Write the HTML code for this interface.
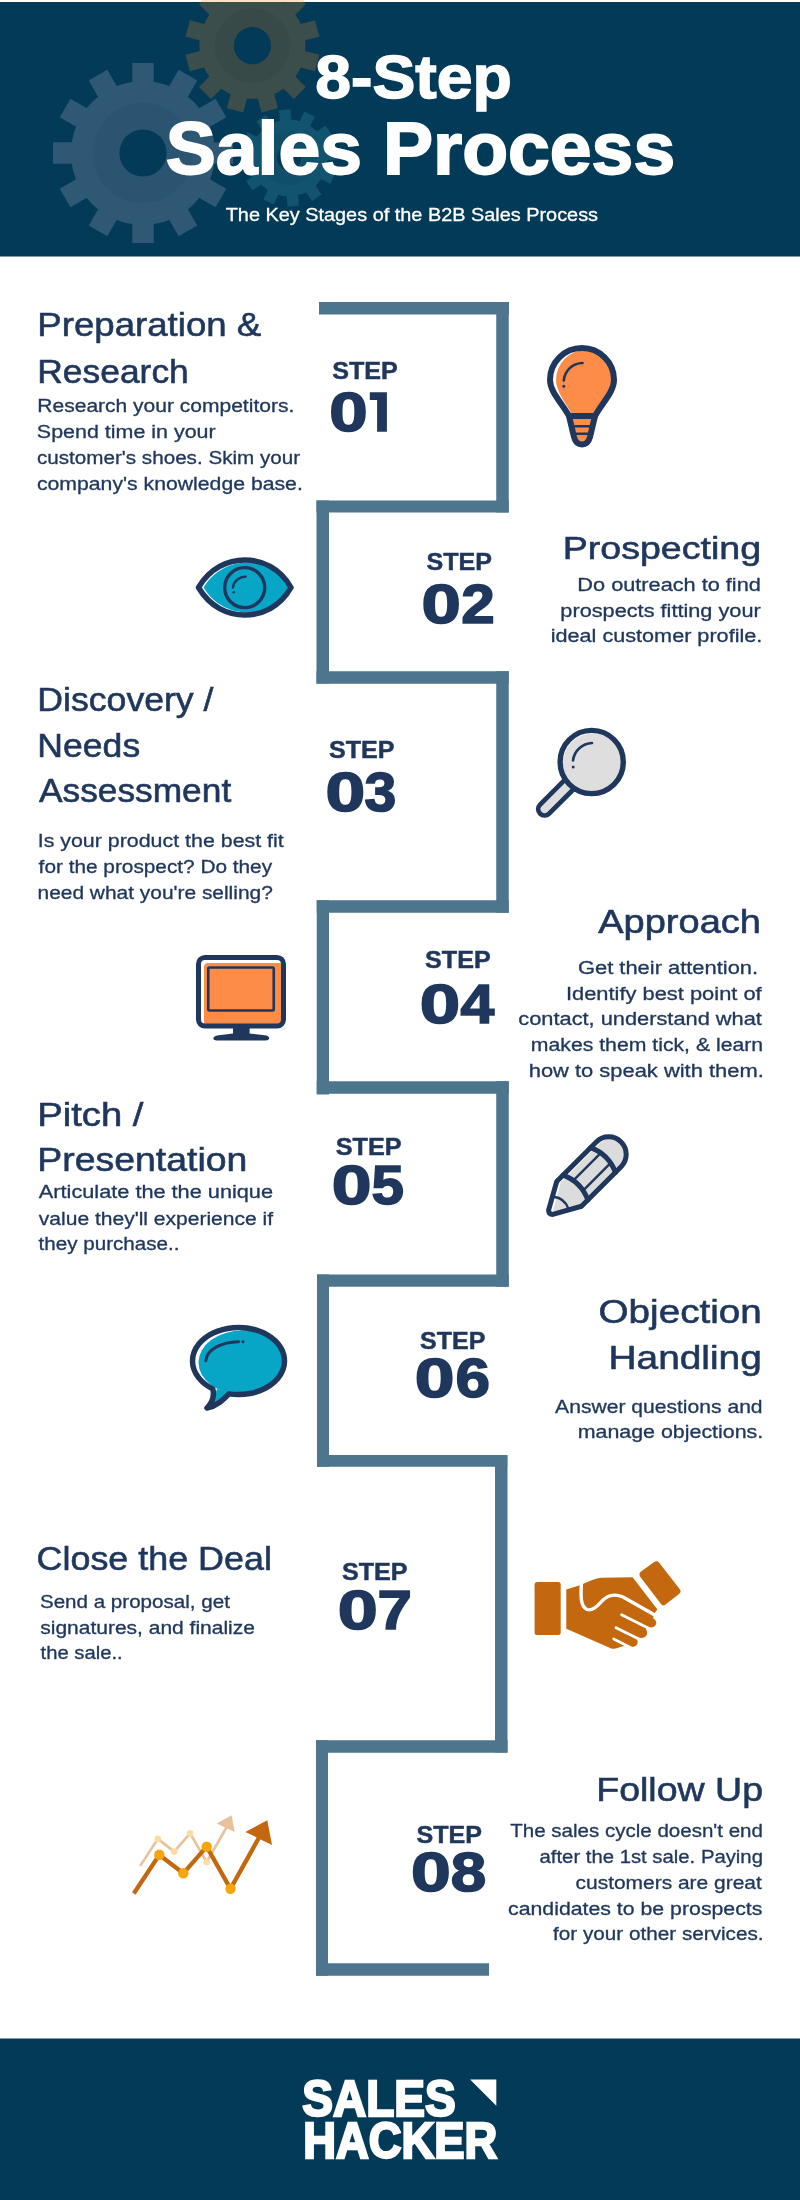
<!DOCTYPE html>
<html><head><meta charset="utf-8"><style>
html,body{margin:0;padding:0;background:#fff;}
svg{display:block;will-change:transform;}
text{font-family:"Liberation Sans",sans-serif;}
</style></head><body>
<svg width="800" height="2200" viewBox="0 0 800 2200">
<rect x="0" y="0" width="800" height="2200" fill="#ffffff"/>
<rect x="0" y="2" width="800" height="254.5" fill="#033a57"/>
<clipPath id="hc"><rect x="0" y="2" width="800" height="254.5"/></clipPath>
<rect x="201" y="0" width="103" height="2" fill="#fbe2c6"/>
<g clip-path="url(#hc)">
<g fill="#2e5873"><circle cx="143" cy="153" r="72"/><rect x="132.25" y="63.00" width="21.50" height="22.00" transform="rotate(0.00 143 153)"/><rect x="132.25" y="63.00" width="21.50" height="22.00" transform="rotate(30.00 143 153)"/><rect x="132.25" y="63.00" width="21.50" height="22.00" transform="rotate(60.00 143 153)"/><rect x="132.25" y="63.00" width="21.50" height="22.00" transform="rotate(90.00 143 153)"/><rect x="132.25" y="63.00" width="21.50" height="22.00" transform="rotate(120.00 143 153)"/><rect x="132.25" y="63.00" width="21.50" height="22.00" transform="rotate(150.00 143 153)"/><rect x="132.25" y="63.00" width="21.50" height="22.00" transform="rotate(180.00 143 153)"/><rect x="132.25" y="63.00" width="21.50" height="22.00" transform="rotate(210.00 143 153)"/><rect x="132.25" y="63.00" width="21.50" height="22.00" transform="rotate(240.00 143 153)"/><rect x="132.25" y="63.00" width="21.50" height="22.00" transform="rotate(270.00 143 153)"/><rect x="132.25" y="63.00" width="21.50" height="22.00" transform="rotate(300.00 143 153)"/><rect x="132.25" y="63.00" width="21.50" height="22.00" transform="rotate(330.00 143 153)"/></g>
<circle cx="143" cy="153" r="50" fill="#2a5470"/>
<circle cx="143" cy="153" r="23.6" fill="#033a57"/>
<g fill="#3c4e4b"><circle cx="252.4" cy="45.7" r="53"/><rect x="243.90" y="-21.30" width="17.00" height="18.00" transform="rotate(15.00 252.4 45.7)"/><rect x="243.90" y="-21.30" width="17.00" height="18.00" transform="rotate(45.00 252.4 45.7)"/><rect x="243.90" y="-21.30" width="17.00" height="18.00" transform="rotate(75.00 252.4 45.7)"/><rect x="243.90" y="-21.30" width="17.00" height="18.00" transform="rotate(105.00 252.4 45.7)"/><rect x="243.90" y="-21.30" width="17.00" height="18.00" transform="rotate(135.00 252.4 45.7)"/><rect x="243.90" y="-21.30" width="17.00" height="18.00" transform="rotate(165.00 252.4 45.7)"/><rect x="243.90" y="-21.30" width="17.00" height="18.00" transform="rotate(195.00 252.4 45.7)"/><rect x="243.90" y="-21.30" width="17.00" height="18.00" transform="rotate(225.00 252.4 45.7)"/><rect x="243.90" y="-21.30" width="17.00" height="18.00" transform="rotate(255.00 252.4 45.7)"/><rect x="243.90" y="-21.30" width="17.00" height="18.00" transform="rotate(285.00 252.4 45.7)"/><rect x="243.90" y="-21.30" width="17.00" height="18.00" transform="rotate(315.00 252.4 45.7)"/><rect x="243.90" y="-21.30" width="17.00" height="18.00" transform="rotate(345.00 252.4 45.7)"/></g>
<circle cx="252.4" cy="45.7" r="37.5" fill="#374a48"/>
<circle cx="252.4" cy="45.7" r="18.6" fill="#033a57"/>
<g fill="#125370"><circle cx="289" cy="158" r="38.5"/><rect x="283.25" y="109.50" width="11.50" height="14.00" transform="rotate(-5.00 289 158)"/><rect x="283.25" y="109.50" width="11.50" height="14.00" transform="rotate(25.00 289 158)"/><rect x="283.25" y="109.50" width="11.50" height="14.00" transform="rotate(55.00 289 158)"/><rect x="283.25" y="109.50" width="11.50" height="14.00" transform="rotate(85.00 289 158)"/><rect x="283.25" y="109.50" width="11.50" height="14.00" transform="rotate(115.00 289 158)"/><rect x="283.25" y="109.50" width="11.50" height="14.00" transform="rotate(145.00 289 158)"/><rect x="283.25" y="109.50" width="11.50" height="14.00" transform="rotate(175.00 289 158)"/><rect x="283.25" y="109.50" width="11.50" height="14.00" transform="rotate(205.00 289 158)"/><rect x="283.25" y="109.50" width="11.50" height="14.00" transform="rotate(235.00 289 158)"/><rect x="283.25" y="109.50" width="11.50" height="14.00" transform="rotate(265.00 289 158)"/><rect x="283.25" y="109.50" width="11.50" height="14.00" transform="rotate(295.00 289 158)"/><rect x="283.25" y="109.50" width="11.50" height="14.00" transform="rotate(325.00 289 158)"/></g>
<circle cx="289" cy="158" r="27" fill="#114e68"/>
<circle cx="289" cy="158" r="12" fill="#033a57"/>
</g>
<rect x="0" y="2038.5" width="800" height="161.5" fill="#033a57"/>
<polygon points="470.1,2079.6 496.3,2079.6 496.3,2105.75" fill="#fff"/>
<g fill="#4d768e"><rect x="319" y="302" width="190" height="12.5"/><rect x="496.25" y="302" width="12.5" height="210.5"/><rect x="316.5" y="500.5" width="192.25" height="12"/><rect x="316.5" y="500.5" width="12.5" height="183"/><rect x="316.5" y="671.25" width="192.25" height="12.5"/><rect x="496.25" y="671.25" width="12.5" height="241.5"/><rect x="316.75" y="900.25" width="192" height="12.5"/><rect x="316.75" y="900.25" width="12.25" height="194.25"/><rect x="316.75" y="1081.25" width="192" height="12.5"/><rect x="496.25" y="1081.25" width="12.5" height="205.5"/><rect x="317" y="1274.5" width="191.75" height="12.25"/><rect x="317" y="1274.5" width="12" height="192.25"/><rect x="317" y="1455" width="190.25" height="11.75"/><rect x="495" y="1455" width="12.5" height="297.5"/><rect x="316" y="1740.25" width="191.5" height="12.5"/><rect x="316" y="1740.25" width="12" height="235.5"/><rect x="316" y="1963.25" width="173" height="12.5"/></g>
<g id="icons" stroke-linejoin="round" stroke-linecap="round">
<!-- bulb -->
<path d="M573,416 C566,403 556,392 556,380 A30,30 0 0 1 616,380 C616,392 605,403 598,416 Z" fill="#fd8c48" stroke="none"/>
<path d="M569,416 L574,437 Q576,444.5 582,444.5 Q588,444.5 590,437 L595,416 Z" fill="#fd8c48" stroke="none"/>
<path d="M569,416 C562,403 550,392 550,380 A32,32 0 0 1 614,380 C614,392 602,403 595,416 Z" fill="none" stroke="#1f375c" stroke-width="6"/>
<path d="M569,416 L574,437 Q576,444.5 582,444.5 Q588,444.5 590,437 L595,416" fill="none" stroke="#1f375c" stroke-width="6"/>
<path d="M571,426.3 L593,426.3 M573,433.8 L591,433.8" stroke="#1f375c" stroke-width="2.6" fill="none"/>
<path d="M563.8,380.5 A19,19 0 0 1 582.5,363" fill="none" stroke="#1f375c" stroke-width="2.6"/>
<circle cx="563.8" cy="386.3" r="1.5" fill="#1f375c"/>
<!-- eye -->
<path d="M203.5,587.5 C215,569 232,562.5 248.5,562.5 C266,562.5 283,569 293,587.5 C283,606 266,612.5 248.5,612.5 C232,612.5 215,606 203.5,587.5 Z" fill="#07a6c6"/>
<path d="M198.5,587.5 C210,568 228,560 244.8,560 C262,560 280,568 291,587.5 C280,607 262,615 244.8,615 C228,615 210,607 198.5,587.5 Z" fill="none" stroke="#1f375c" stroke-width="5.5"/>
<circle cx="244.7" cy="587.6" r="20" fill="#07a6c6" stroke="#1f375c" stroke-width="3.4"/>
<path d="M232.9,587.5 A13,13 0 0 1 245.7,576.6" fill="none" stroke="#1f375c" stroke-width="2.4"/>
<circle cx="233.7" cy="592.2" r="1.3" fill="#1f375c"/>
<!-- magnifier -->
<line x1="570.5" y1="783.2" x2="544.6" y2="809.1" stroke="#1f375c" stroke-width="17.5"/>
<line x1="570.5" y1="783.2" x2="544.6" y2="809.1" stroke="#dedede" stroke-width="8"/>
<circle cx="593" cy="763.5" r="30" fill="#dedede"/>
<circle cx="591.7" cy="762" r="31.6" fill="none" stroke="#1f375c" stroke-width="5.4"/>
<path d="M573,760.5 A20,20 0 0 1 592,743" fill="none" stroke="#1f375c" stroke-width="2.6"/>
<circle cx="573.2" cy="767" r="1.5" fill="#1f375c"/>
<!-- monitor -->
<rect x="204" y="963" width="80" height="63" rx="4" fill="#fd8c48"/>
<rect x="198.5" y="957.4" width="85" height="68.7" rx="6.5" fill="none" stroke="#1f375c" stroke-width="5"/>
<rect x="208.25" y="967.55" width="65.5" height="42.9" rx="1.2" fill="none" stroke="#1f375c" stroke-width="2.6"/>
<path d="M233,1026 L249.6,1026 L249.6,1033.5 L266.5,1035.5 Q270,1036.5 269,1039 Q268,1040.5 265,1040.5 L217,1040.5 Q213,1040.5 213.3,1038 Q214,1036 217,1035.5 L233,1033.5 Z" fill="#1f375c" stroke="none"/>
<!-- pencil -->
<g transform="translate(548.6,1214.4) rotate(-45)">
<path d="M4,-1 L30,-16 L86,-16 A16,16 0 0 1 86,16 L30,16 L4,1 Z" fill="#dcdcdc" stroke="none" transform="translate(1,2)"/>
<path d="M3,-3 L29,-17.5 L85,-17.5 A17.5,17.5 0 0 1 85,17.5 L29,17.5 L3,3 Q0,0 3,-3 Z" fill="none" stroke="#1f375c" stroke-width="5"/>
<path d="M38,-17.5 Q46,0 38,17.5 M77,-17.5 Q85,0 77,17.5" fill="none" stroke="#1f375c" stroke-width="5"/>
<path d="M42,-6.5 L79,-6.5 M43,7.5 L80,7.5" fill="none" stroke="#1f375c" stroke-width="2.4"/>
<path d="M16,-9 Q23,0 18,10" fill="none" stroke="#1f375c" stroke-width="2.4"/>
</g>
<!-- speech bubble -->
<ellipse cx="242.5" cy="1362.5" rx="44" ry="32" fill="#07a6c6"/>
<path d="M232,1392 L211,1405 L217,1389 Z" fill="#07a6c6"/>
<path d="M228.94,1393.87 A46,33.6 0 1 0 212.78,1388.86 C214.5,1396 212,1403 207,1408 C217,1406 223,1400 228.94,1393.87 Z" fill="none" stroke="#1f375c" stroke-width="5.5"/>
<path d="M205.8,1360.7 C207,1349 222,1342 238.5,1341.7" fill="none" stroke="#1f375c" stroke-width="3"/>
<circle cx="243" cy="1341.7" r="1.5" fill="#1f375c"/>
<!-- handshake -->
<g fill="#c4680f" stroke="none">
<rect x="534.6" y="1581.9" width="26.1" height="53.1" rx="2.5"/>
<path d="M641,1571.5 L654.5,1561.8 Q657,1560.3 659,1562.5 L680,1589.5 Q681.5,1592 679,1594 L665.5,1604.5 Q663,1606.5 661,1604 L640,1576.5 Q638.5,1573.5 641,1571.5 Z"/>
<path d="M566.3,1589.4 L580.6,1585 L586.25,1582.5 Q595,1578.5 601.25,1577.8 L632.6,1577.3 L657.4,1609.6 L655,1612.5 L653,1618 Q658.5,1622 655,1626 Q652,1628.5 647,1627 L646,1629 Q648.5,1634.5 645,1637 Q642,1638.5 638,1637.5 L637,1639 Q639,1644 635.5,1646 Q631,1648 627,1645.5 L620.25,1647 Q615,1649.5 611.25,1648.4 L566.3,1628.75 Z"/>
</g>
<g fill="none" stroke="#ffffff" stroke-width="2.8" stroke-linecap="round">
<path d="M581.5,1581 C581,1593 579.5,1606 587,1609.5 C593,1611.5 598,1605 603,1600 C609,1594.5 615,1593.5 623,1597 L660,1618" stroke-linecap="butt" stroke-width="3.4"/>
<path d="M621.6,1614.8 L662,1635"/>
<path d="M616,1627.8 L655,1647"/>
<path d="M613.7,1639 L645,1655"/>
</g>
<!-- chart -->
<g stroke-linecap="butt">
<polyline points="140.2,1865.9 157.8,1838.9 174.2,1851.6 190.1,1833.4 206.7,1862 229,1823" fill="none" stroke="#e7c29c" stroke-width="2.6"/>
<polygon points="216.7,1823.4 231.6,1815.3 234.7,1831.9" fill="#e7c29c"/>
<circle cx="157.8" cy="1838.9" r="3.3" fill="#fbdca3"/>
<circle cx="174.2" cy="1851.6" r="3.3" fill="#fbdca3"/>
<circle cx="190.1" cy="1833.4" r="3.3" fill="#fbdca3"/>
<circle cx="206.7" cy="1862" r="3.3" fill="#fbdca3"/>
<polyline points="133.8,1893.5 159.3,1854.8 183.3,1873.3 206.7,1846.7 230.5,1888.8 261,1834" fill="none" stroke="#c4680f" stroke-width="4.3" stroke-linejoin="miter"/>
<polygon points="245.4,1831.9 267.3,1820.2 272,1845" fill="#c4680f"/>
<circle cx="159.3" cy="1854.8" r="5.2" fill="#f6a50c"/>
<circle cx="183.3" cy="1873.3" r="5.2" fill="#f6a50c"/>
<circle cx="206.7" cy="1846.7" r="5.2" fill="#f6a50c"/>
<circle cx="230.5" cy="1888.8" r="5.2" fill="#f6a50c"/>
</g>
</g>

<text x="315.16" y="97.80" font-size="60.47" font-weight="bold" fill="#ffffff" stroke="#ffffff" stroke-width="1.4" textLength="196.78" lengthAdjust="spacingAndGlyphs">8-Step</text>
<text x="165.74" y="173.90" font-size="74.42" font-weight="bold" fill="#ffffff" stroke="#ffffff" stroke-width="1.8" textLength="509.44" lengthAdjust="spacingAndGlyphs">Sales Process</text>
<text x="225.70" y="221.25" font-size="17.73"  fill="#ffffff" stroke="#ffffff" stroke-width="0.3" textLength="372.36" lengthAdjust="spacingAndGlyphs">The Key Stages of the B2B Sales Process</text>
<text x="37.30" y="336.45" font-size="33.14"  fill="#1f375c" stroke="#1f375c" stroke-width="0.6" textLength="223.98" lengthAdjust="spacingAndGlyphs">Preparation &amp;</text>
<text x="37.30" y="382.70" font-size="33.14"  fill="#1f375c" stroke="#1f375c" stroke-width="0.6" textLength="151.50" lengthAdjust="spacingAndGlyphs">Research</text>
<text x="37.34" y="411.54" font-size="18.43"  fill="#1f375c" stroke="#1f375c" stroke-width="0.32" textLength="256.92" lengthAdjust="spacingAndGlyphs">Research your competitors.</text>
<text x="36.89" y="437.84" font-size="18.43"  fill="#1f375c" stroke="#1f375c" stroke-width="0.32" textLength="178.81" lengthAdjust="spacingAndGlyphs">Spend time in your</text>
<text x="36.98" y="464.04" font-size="18.43"  fill="#1f375c" stroke="#1f375c" stroke-width="0.32" textLength="263.20" lengthAdjust="spacingAndGlyphs">customer&#x27;s shoes. Skim your</text>
<text x="36.96" y="489.59" font-size="18.43"  fill="#1f375c" stroke="#1f375c" stroke-width="0.32" textLength="265.82" lengthAdjust="spacingAndGlyphs">company&#x27;s knowledge base.</text>
<text x="562.72" y="558.60" font-size="31.10"  fill="#1f375c" stroke="#1f375c" stroke-width="0.6" textLength="198.40" lengthAdjust="spacingAndGlyphs">Prospecting</text>
<text x="577.38" y="591.44" font-size="18.43"  fill="#1f375c" stroke="#1f375c" stroke-width="0.32" textLength="183.46" lengthAdjust="spacingAndGlyphs">Do outreach to find</text>
<text x="560.36" y="616.94" font-size="18.43"  fill="#1f375c" stroke="#1f375c" stroke-width="0.32" textLength="200.34" lengthAdjust="spacingAndGlyphs">prospects fitting your</text>
<text x="550.71" y="642.44" font-size="18.43"  fill="#1f375c" stroke="#1f375c" stroke-width="0.32" textLength="211.60" lengthAdjust="spacingAndGlyphs">ideal customer profile.</text>
<text x="37.38" y="710.70" font-size="33.14"  fill="#1f375c" stroke="#1f375c" stroke-width="0.6" textLength="176.07" lengthAdjust="spacingAndGlyphs">Discovery /</text>
<text x="37.38" y="756.95" font-size="33.14"  fill="#1f375c" stroke="#1f375c" stroke-width="0.6" textLength="102.80" lengthAdjust="spacingAndGlyphs">Needs</text>
<text x="38.98" y="802.45" font-size="33.14"  fill="#1f375c" stroke="#1f375c" stroke-width="0.6" textLength="192.23" lengthAdjust="spacingAndGlyphs">Assessment</text>
<text x="37.69" y="847.14" font-size="18.43"  fill="#1f375c" stroke="#1f375c" stroke-width="0.32" textLength="246.06" lengthAdjust="spacingAndGlyphs">Is your product the best fit</text>
<text x="38.62" y="873.39" font-size="18.43"  fill="#1f375c" stroke="#1f375c" stroke-width="0.32" textLength="233.47" lengthAdjust="spacingAndGlyphs">for the prospect? Do they</text>
<text x="37.52" y="898.59" font-size="18.43"  fill="#1f375c" stroke="#1f375c" stroke-width="0.32" textLength="235.29" lengthAdjust="spacingAndGlyphs">need what you&#x27;re selling?</text>
<text x="598.23" y="932.70" font-size="32.56"  fill="#1f375c" stroke="#1f375c" stroke-width="0.6" textLength="162.69" lengthAdjust="spacingAndGlyphs">Approach</text>
<text x="577.96" y="974.24" font-size="18.43"  fill="#1f375c" stroke="#1f375c" stroke-width="0.32" textLength="180.18" lengthAdjust="spacingAndGlyphs">Get their attention.</text>
<text x="565.94" y="1000.24" font-size="18.43"  fill="#1f375c" stroke="#1f375c" stroke-width="0.32" textLength="195.77" lengthAdjust="spacingAndGlyphs">Identify best point of</text>
<text x="518.33" y="1025.24" font-size="18.43"  fill="#1f375c" stroke="#1f375c" stroke-width="0.32" textLength="243.57" lengthAdjust="spacingAndGlyphs">contact, understand what</text>
<text x="530.85" y="1051.24" font-size="18.43"  fill="#1f375c" stroke="#1f375c" stroke-width="0.32" textLength="232.27" lengthAdjust="spacingAndGlyphs">makes them tick, &amp; learn</text>
<text x="528.74" y="1076.59" font-size="18.43"  fill="#1f375c" stroke="#1f375c" stroke-width="0.32" textLength="235.00" lengthAdjust="spacingAndGlyphs">how to speak with them.</text>
<text x="37.16" y="1125.75" font-size="33.14"  fill="#1f375c" stroke="#1f375c" stroke-width="0.6" textLength="106.29" lengthAdjust="spacingAndGlyphs">Pitch /</text>
<text x="37.23" y="1171.25" font-size="33.14"  fill="#1f375c" stroke="#1f375c" stroke-width="0.6" textLength="210.15" lengthAdjust="spacingAndGlyphs">Presentation</text>
<text x="38.87" y="1197.64" font-size="18.43"  fill="#1f375c" stroke="#1f375c" stroke-width="0.32" textLength="234.14" lengthAdjust="spacingAndGlyphs">Articulate the the unique</text>
<text x="38.84" y="1224.59" font-size="18.43"  fill="#1f375c" stroke="#1f375c" stroke-width="0.32" textLength="234.22" lengthAdjust="spacingAndGlyphs">value they&#x27;ll experience if</text>
<text x="38.60" y="1250.14" font-size="18.43"  fill="#1f375c" stroke="#1f375c" stroke-width="0.32" textLength="140.82" lengthAdjust="spacingAndGlyphs">they purchase..</text>
<text x="598.47" y="1323.30" font-size="32.56"  fill="#1f375c" stroke="#1f375c" stroke-width="0.6" textLength="163.34" lengthAdjust="spacingAndGlyphs">Objection</text>
<text x="608.51" y="1369.20" font-size="32.56"  fill="#1f375c" stroke="#1f375c" stroke-width="0.6" textLength="153.29" lengthAdjust="spacingAndGlyphs">Handling</text>
<text x="555.12" y="1412.84" font-size="18.43"  fill="#1f375c" stroke="#1f375c" stroke-width="0.32" textLength="207.48" lengthAdjust="spacingAndGlyphs">Answer questions and</text>
<text x="577.74" y="1438.34" font-size="18.43"  fill="#1f375c" stroke="#1f375c" stroke-width="0.32" textLength="185.45" lengthAdjust="spacingAndGlyphs">manage objections.</text>
<text x="36.58" y="1569.70" font-size="33.14"  fill="#1f375c" stroke="#1f375c" stroke-width="0.6" textLength="235.32" lengthAdjust="spacingAndGlyphs">Close the Deal</text>
<text x="39.93" y="1607.84" font-size="18.43"  fill="#1f375c" stroke="#1f375c" stroke-width="0.32" textLength="189.97" lengthAdjust="spacingAndGlyphs">Send a proposal, get</text>
<text x="40.28" y="1633.84" font-size="18.43"  fill="#1f375c" stroke="#1f375c" stroke-width="0.32" textLength="214.70" lengthAdjust="spacingAndGlyphs">signatures, and finalize</text>
<text x="40.55" y="1659.14" font-size="18.43"  fill="#1f375c" stroke="#1f375c" stroke-width="0.32" textLength="82.13" lengthAdjust="spacingAndGlyphs">the sale..</text>
<text x="596.22" y="1801.45" font-size="32.56"  fill="#1f375c" stroke="#1f375c" stroke-width="0.6" textLength="166.85" lengthAdjust="spacingAndGlyphs">Follow Up</text>
<text x="510.20" y="1836.59" font-size="18.43"  fill="#1f375c" stroke="#1f375c" stroke-width="0.32" textLength="252.76" lengthAdjust="spacingAndGlyphs">The sales cycle doesn&#x27;t end</text>
<text x="539.55" y="1862.84" font-size="18.43"  fill="#1f375c" stroke="#1f375c" stroke-width="0.32" textLength="223.40" lengthAdjust="spacingAndGlyphs">after the 1st sale. Paying</text>
<text x="575.57" y="1889.09" font-size="18.43"  fill="#1f375c" stroke="#1f375c" stroke-width="0.32" textLength="186.22" lengthAdjust="spacingAndGlyphs">customers are great</text>
<text x="508.01" y="1914.64" font-size="18.43"  fill="#1f375c" stroke="#1f375c" stroke-width="0.32" textLength="254.40" lengthAdjust="spacingAndGlyphs">candidates to be prospects</text>
<text x="553.07" y="1939.84" font-size="18.43"  fill="#1f375c" stroke="#1f375c" stroke-width="0.32" textLength="210.46" lengthAdjust="spacingAndGlyphs">for your other services.</text>
<text x="332.28" y="378.55" font-size="24.42" font-weight="bold" fill="#1f375c" stroke="#1f375c" stroke-width="0.5" textLength="65.58" lengthAdjust="spacingAndGlyphs">STEP</text>
<text x="329.31" y="430.95" font-size="55.23" font-weight="bold" fill="#1f375c" stroke="#1f375c" stroke-width="1.6" textLength="38.47" lengthAdjust="spacingAndGlyphs">0</text>
<path d="M369.8,392.2 L386.9,392.2 L386.9,431.8 L377.1,431.8 L377.1,399.9 L369.8,399.9 Z" fill="#1f375c"/>
<text x="426.43" y="569.50" font-size="24.42" font-weight="bold" fill="#1f375c" stroke="#1f375c" stroke-width="0.5" textLength="65.43" lengthAdjust="spacingAndGlyphs">STEP</text>
<text x="421.50" y="622.70" font-size="55.23" font-weight="bold" fill="#1f375c" stroke="#1f375c" stroke-width="1.6" textLength="39.35" lengthAdjust="spacingAndGlyphs">0</text>
<text x="461.21" y="622.70" font-size="55.23" font-weight="bold" fill="#1f375c" stroke="#1f375c" stroke-width="1.6" textLength="33.50" lengthAdjust="spacingAndGlyphs">2</text>
<text x="328.93" y="757.50" font-size="24.42" font-weight="bold" fill="#1f375c" stroke="#1f375c" stroke-width="0.5" textLength="65.43" lengthAdjust="spacingAndGlyphs">STEP</text>
<text x="325.47" y="811.10" font-size="55.23" font-weight="bold" fill="#1f375c" stroke="#1f375c" stroke-width="1.6" textLength="39.76" lengthAdjust="spacingAndGlyphs">0</text>
<text x="364.49" y="811.10" font-size="55.23" font-weight="bold" fill="#1f375c" stroke="#1f375c" stroke-width="1.6" textLength="31.78" lengthAdjust="spacingAndGlyphs">3</text>
<text x="425.13" y="967.50" font-size="24.42" font-weight="bold" fill="#1f375c" stroke="#1f375c" stroke-width="0.5" textLength="65.48" lengthAdjust="spacingAndGlyphs">STEP</text>
<text x="419.82" y="1022.70" font-size="55.23" font-weight="bold" fill="#1f375c" stroke="#1f375c" stroke-width="1.6" textLength="40.46" lengthAdjust="spacingAndGlyphs">0</text>
<text x="460.48" y="1022.70" font-size="55.23" font-weight="bold" fill="#1f375c" stroke="#1f375c" stroke-width="1.6" textLength="33.80" lengthAdjust="spacingAndGlyphs">4</text>
<text x="335.77" y="1155.35" font-size="24.42" font-weight="bold" fill="#1f375c" stroke="#1f375c" stroke-width="0.5" textLength="65.84" lengthAdjust="spacingAndGlyphs">STEP</text>
<text x="331.72" y="1204.20" font-size="55.23" font-weight="bold" fill="#1f375c" stroke="#1f375c" stroke-width="1.6" textLength="39.82" lengthAdjust="spacingAndGlyphs">0</text>
<text x="371.51" y="1204.20" font-size="55.23" font-weight="bold" fill="#1f375c" stroke="#1f375c" stroke-width="1.6" textLength="32.42" lengthAdjust="spacingAndGlyphs">5</text>
<text x="420.13" y="1348.50" font-size="24.42" font-weight="bold" fill="#1f375c" stroke="#1f375c" stroke-width="0.5" textLength="65.22" lengthAdjust="spacingAndGlyphs">STEP</text>
<text x="414.87" y="1396.95" font-size="55.23" font-weight="bold" fill="#1f375c" stroke="#1f375c" stroke-width="1.6" textLength="39.76" lengthAdjust="spacingAndGlyphs">0</text>
<text x="455.43" y="1396.95" font-size="55.23" font-weight="bold" fill="#1f375c" stroke="#1f375c" stroke-width="1.6" textLength="34.52" lengthAdjust="spacingAndGlyphs">6</text>
<text x="342.03" y="1580.35" font-size="24.42" font-weight="bold" fill="#1f375c" stroke="#1f375c" stroke-width="0.5" textLength="65.48" lengthAdjust="spacingAndGlyphs">STEP</text>
<text x="337.70" y="1628.95" font-size="55.23" font-weight="bold" fill="#1f375c" stroke="#1f375c" stroke-width="1.6" textLength="40.05" lengthAdjust="spacingAndGlyphs">0</text>
<text x="377.54" y="1628.95" font-size="55.23" font-weight="bold" fill="#1f375c" stroke="#1f375c" stroke-width="1.6" textLength="34.37" lengthAdjust="spacingAndGlyphs">7</text>
<text x="416.43" y="1842.50" font-size="24.42" font-weight="bold" fill="#1f375c" stroke="#1f375c" stroke-width="0.5" textLength="65.43" lengthAdjust="spacingAndGlyphs">STEP</text>
<text x="411.07" y="1891.10" font-size="55.23" font-weight="bold" fill="#1f375c" stroke="#1f375c" stroke-width="1.6" textLength="39.82" lengthAdjust="spacingAndGlyphs">0</text>
<text x="450.67" y="1891.10" font-size="55.23" font-weight="bold" fill="#1f375c" stroke="#1f375c" stroke-width="1.6" textLength="35.49" lengthAdjust="spacingAndGlyphs">8</text>
<text x="302.28" y="2115.55" font-size="50.29" font-weight="bold" fill="#ffffff" stroke="#ffffff" stroke-width="2.4" textLength="153.32" lengthAdjust="spacingAndGlyphs">SALES</text>
<text x="303.27" y="2158.20" font-size="49.42" font-weight="bold" fill="#ffffff" stroke="#ffffff" stroke-width="2.4" textLength="194.07" lengthAdjust="spacingAndGlyphs">HACKER</text>
</svg>
</body></html>
